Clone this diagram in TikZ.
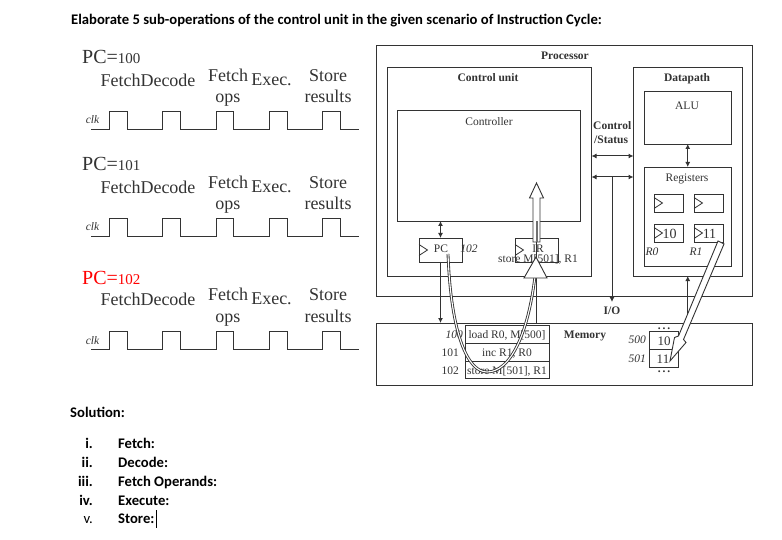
\documentclass[tikz,border=0pt]{standalone}
\usepackage{fontspec}
\setmainfont{Liberation Serif}
\newfontfamily\calib{Carlito}
\usetikzlibrary{arrows.meta,calc}
\definecolor{ink}{HTML}{333333}
\newcommand{\bx}[5]{\node[box,minimum width={(#4-#2)*1pt},minimum height={(#5-#3)*1pt}] (#1) at ({(#2+#4)/2},{(#3+#5)/2}) {};}
\newcommand{\fs}[1]{\fontsize{#1}{#1}\selectfont}
\tikzset{
  box/.style={draw=ink,line width=0.95pt,inner sep=0pt,outer sep=0pt},
  lab/.style={anchor=base,inner sep=0pt,text=ink,font=\fs{11.5}},
  labb/.style={lab,font=\fs{11.5}\bfseries},
  labi/.style={lab,font=\fs{11.5}\itshape},
  big/.style={anchor=base,inner sep=0pt,text=ink,font=\fs{18}},
  head/.style={anchor=base west,inner sep=0pt,text=black,font=\calib\fs{14.67}\bfseries},
  wave/.style={draw=ink,line width=0.95pt},
  conn/.style={draw=ink,line width=1pt,{Latex[length=5pt,width=5pt]}-{Latex[length=5pt,width=5pt]}},
  conn1/.style={draw=ink,line width=1pt,-{Latex[length=5pt,width=5pt]}},
  hollow/.style={draw=ink,line width=0.9pt,fill=white,line join=miter},
}
\begin{document}
\begin{tikzpicture}[x=1pt,y=-1pt]
\useasboundingbox[fill=white] (0,0) rectangle (782,540);
\node[head] (title) at (71,25) {Elaborate 5 sub-operations of the control unit in the given scenario of Instruction Cycle:};
% timing rows
\foreach \dy/\dt/\pc/\col/\nm in {0/0/100/ink/a,107/107/101/ink/b,220/219/102/red/c}{
  \node[anchor=base west,inner sep=0pt,text=\col] (pc\nm) at (82,64+\dy) {\fs{20}PC=\fs{15}\pc};
  \node[big] (fd\nm) at (148,86.5+\dt) {FetchDecode};
  \node[big] (fe\nm) at (228,81.5+\dt) {Fetch};
  \node[big] (op\nm) at (228,103+\dt) {ops};
  \node[big] (ex\nm) at (271.5,86+\dt) {Exec.};
  \node[big] (st\nm) at (328,81.5+\dt) {Store};
  \node[big] (re\nm) at (328,103+\dt) {results};
  \node[lab,font=\fs{11.5}\itshape] (clk\nm) at (92.5,124+\dy) {clk};
  \draw[wave] (91,129+\dy) -- (109,129+\dy) -- (109,111+\dy) -- (127,111+\dy) -- (127,129+\dy)
    -- (162,129+\dy) -- (162,111+\dy) -- (180,111+\dy) -- (180,129+\dy)
    -- (216,129+\dy) -- (216,111+\dy) -- (233,111+\dy) -- (233,129+\dy)
    -- (269,129+\dy) -- (269,111+\dy) -- (287,111+\dy) -- (287,129+\dy)
    -- (322,129+\dy) -- (322,111+\dy) -- (340,111+\dy) -- (340,129+\dy) -- (359,129+\dy);
}
% boxes
\bx{proc}{376.5}{45}{752}{296}
\bx{cu}{387}{67}{591.5}{276}
\bx{ctrl}{397}{110}{580}{221}
\bx{pc}{419}{238}{462}{262}
\bx{ir}{515}{238}{558}{262}
\bx{dp}{633.5}{67}{742}{276}
\bx{alu}{644.5}{91}{731}{144}
\bx{regs}{644.5}{167}{731}{266}
\bx{ra}{654}{194}{683}{212}
\bx{rb}{694}{194}{723}{212}
\bx{rc}{654}{224}{683}{242}
\bx{rd}{694}{224}{723}{242}
\bx{mem}{376.5}{323}{752}{385}
\bx{t1}{465}{325}{549}{343}
\bx{t2}{465}{343}{549}{361}
\bx{t3}{465}{361}{549}{378}
\bx{m1}{649}{331}{678}{349}
\bx{m2}{649}{349}{678}{367}
% clock triangles on registers
\foreach \r in {pc,ir,ra,rb,rc,rd}{
  \draw[ink,line width=0.8pt] ($(\r.west)+(0,-5.5)$) -- ($(\r.west)+(8.5,0)$) -- ($(\r.west)+(0,5.5)$);
}
% labels
\node[labb] (lproc) at (565,60) {Processor};
\node[labb] (lcu) at (488,82) {Control unit};
\node[labb] (ldp) at (687,82) {Datapath};
\node[lab] (lalu) at (687,110) {ALU};
\node[lab] (lctrl) at (489,126) {Controller};
\node[labb,anchor=base west] (lc1) at (593,130) {Control};
\node[labb,anchor=base west] (lc2) at (594,144) {/Status};
\node[lab] (lreg) at (687,182) {Registers};
\node[lab] (lpc) at (441,253) {PC};
\node[labi] (l102) at (469,253) {102};
\node[lab] (lir) at (538,253) {IR};
\node[lab] (lstore) at (538,262) {store M[501], R1};
\node[lab,font=\fs{14}] (l10) at (669.5,238.5) {10};
\node[lab,font=\fs{14}] (l11) at (709.5,238.5) {11};
\node[labi] (lr0) at (652,255) {R0};
\node[labi] (lr1) at (696,255) {R1};
\node[labb] (lio) at (612,314) {I/O};
\node[labb] (lmem) at (585,338) {Memory};
\node[labi,anchor=base east] (l100) at (463,338) {100};
\node[lab,anchor=base east] (l101) at (459,356) {101};
\node[lab,anchor=base east] (l102b) at (459,374) {102};
\node[lab] (tt1) at (507,338) {load R0, M[500]};
\node[lab] (tt2) at (507,356) {inc R1, R0};
\node[lab] (tt3) at (507,374) {store M[501], R1};
\node[labi,anchor=base east] (l500) at (646,343) {500};
\node[labi,anchor=base east] (l501) at (646,362) {501};
\node[lab,font=\fs{13}] (v10) at (664,345.5) {10};
\node[lab,font=\fs{13}] (v11) at (663,363.5) {11};
\node[labb] (d1) at (664,329) {.\,.\,.};
\node[labb] (d2) at (664,372) {.\,.\,.};
% connectors
\draw[conn] (ctrl.south -| pc.south) -- (pc.north);
\draw[conn1] (pc.south) -- (mem.north -| pc.south);
\draw[conn1] (mem.north -| ir.south) -- (ctrl.south -| ir.south);
\draw[conn] (cu.east |- 0,156) -- (dp.west |- 0,156);
\draw[conn] (cu.east |- 0,177) coordinate (bl) -- (dp.west |- 0,177) coordinate (br);
\coordinate (iotop) at (612,177);
\coordinate (iobot) at (612,302);
\draw[conn1] (iotop) -- (iobot);
\draw[conn] (alu.south) -- (regs.north);
\draw[conn1] (mem.north -| alu.south) -- (dp.south -| alu.south);
% hollow arrows
\coordinate (irs) at (536.5,242);
\coordinate (irt) at (536.5,183);
\draw[hollow] ($(irs)+(-3.5,0)$) -- ($(irs)+(-3.5,-44)$) -- ($(irs)+(-7,-44)$) -- (irt) -- ($(irs)+(7,-44)$) -- ($(irs)+(3.5,-44)$) -- ($(irs)+(3.5,0)$) -- cycle;
\draw[draw=ink!70,line width=2.5pt] ($(irs)+(0.5,0)$) -- ($(irs)+(0.5,-21)$);
\coordinate (cs) at (448,254);
\coordinate (cb) at (487,372);
\coordinate (ce) at (535,276);
\draw[draw=ink,line width=2.8pt] (cs) .. controls (451,335) and (468,372) .. (cb) .. controls (510,372) and (528,335) .. (ce);
\draw[draw=white,line width=1.1pt] (cs) .. controls (451,335) and (468,372) .. (cb) .. controls (510,372) and (528,335) .. (ce);
\coordinate (ta) at (536,257);
\draw[hollow] (ta) -- (547,278) -- (524,278) -- cycle;
\coordinate (rs) at (721,242.5);
\coordinate (rt) at (670,361);
\draw[hollow] (718,241) -- (678.5,336) -- (674.5,337.5) -- (rt) -- (686,342.5) -- (683.5,339.5) -- (724,244) -- cycle;
% solution
\node[head] (sol) at (70,417) {Solution:};
\foreach \n/\t/\y/\w in {i/i./448/\bfseries,ii/ii./467/\bfseries,iii/iii./486/\bfseries,iv/iv./505/\bfseries,v/v./523.5/\mdseries}{
  \node[anchor=base east,inner sep=0pt,text=black,font=\calib\fs{14.67}\w] (n\n) at (93,\y) {\t};
}
\node[head] (s1) at (118,448) {Fetch:};
\node[head] (s2) at (118,467) {Decode:};
\node[head] (s3) at (118,486) {Fetch Operands:};
\node[head] (s4) at (118,505) {Execute:};
\node[head] (s5) at (118,523.5) {Store:};
\draw[black,line width=0.9pt] (156,510) -- (156,528);
\end{tikzpicture}
\end{document}
